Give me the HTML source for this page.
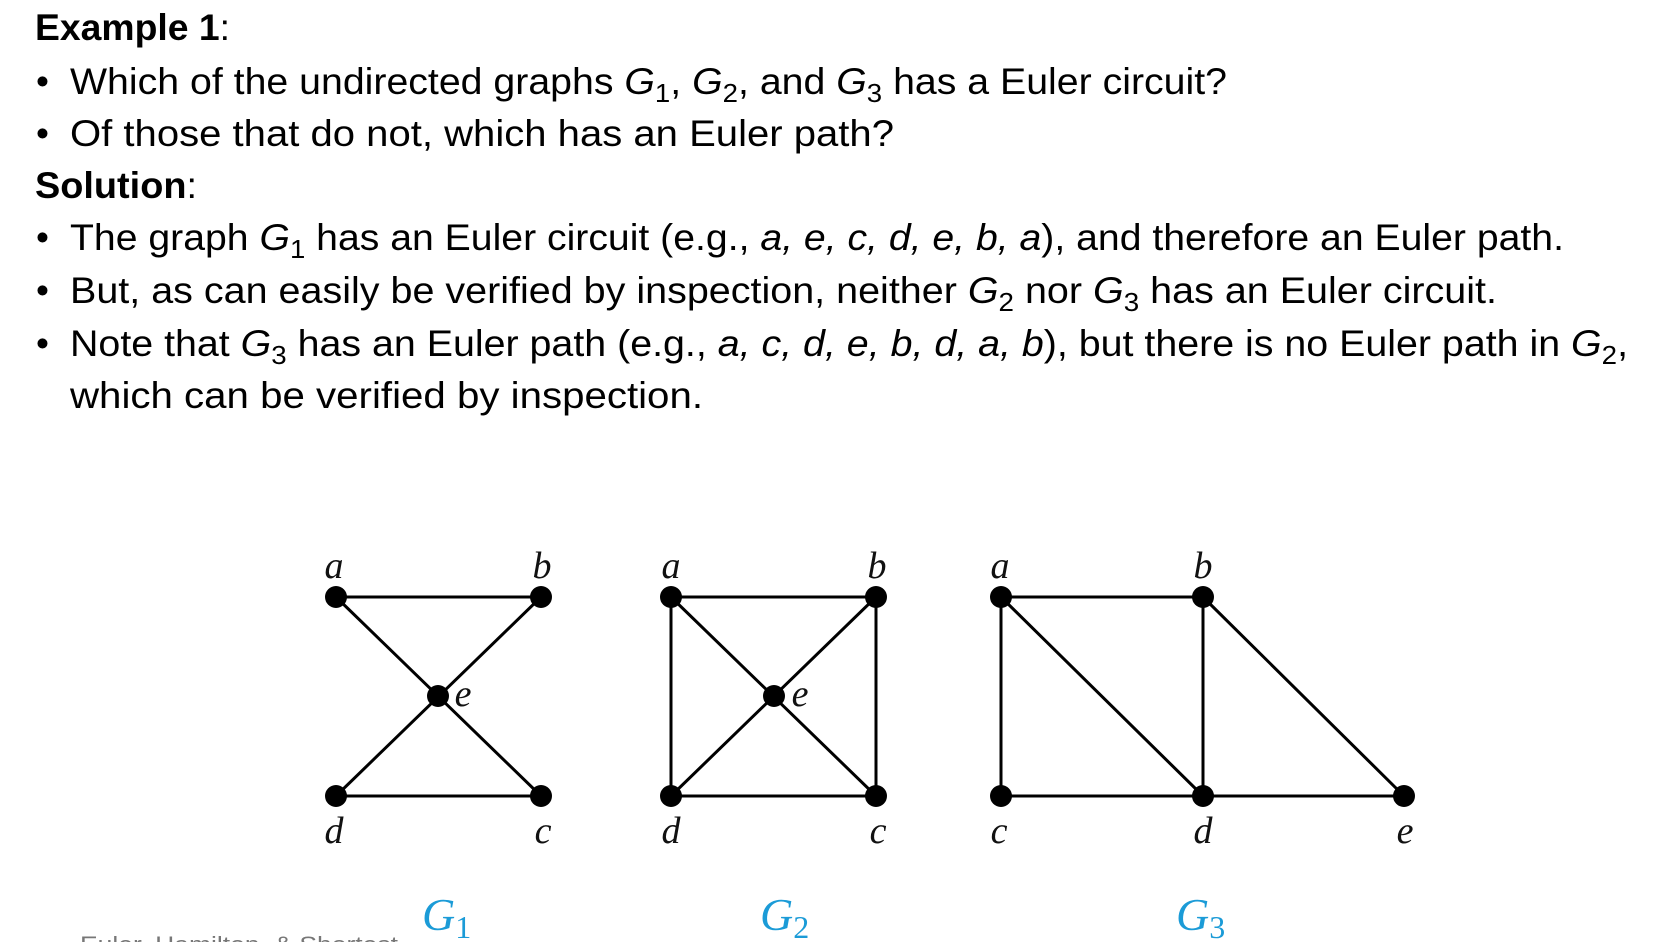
<!DOCTYPE html>
<html><head><meta charset="utf-8"><style>
html,body{margin:0;padding:0;background:#fff;width:1660px;height:942px;overflow:hidden}
svg{display:block}
.t{font-family:"Liberation Sans",sans-serif;font-size:37px;fill:#000}
.b{font-weight:bold}
.s{font-size:26px}
.lab{font-family:"Liberation Serif",serif;font-style:italic;font-size:38px;fill:#111}
.gl{font-family:"Liberation Serif",serif;font-style:italic;font-size:46px;fill:#1b9bd7}
</style></head><body>
<svg width="1660" height="942" viewBox="0 0 1660 942">
<text class="t b" x="35" y="40" textLength="195" lengthAdjust="spacingAndGlyphs">Example 1<tspan font-weight="normal">:</tspan></text>
<g class="t">
<text x="36" y="94">•</text><text x="36" y="146">•</text><text x="36" y="250">•</text><text x="36" y="303">•</text><text x="36" y="356">•</text>
</g>
<text class="t" x="70" y="94" textLength="1157" lengthAdjust="spacingAndGlyphs">Which of the undirected graphs <tspan font-style="italic">G</tspan><tspan class="s" dy="8">1</tspan><tspan dy="-8">, </tspan><tspan font-style="italic">G</tspan><tspan class="s" dy="8">2</tspan><tspan dy="-8">, and </tspan><tspan font-style="italic">G</tspan><tspan class="s" dy="8">3</tspan><tspan dy="-8"> has a Euler circuit?</tspan></text>
<text class="t" x="70" y="146" textLength="824" lengthAdjust="spacingAndGlyphs">Of those that do not, which has an Euler path?</text>
<text class="t b" x="35" y="198" textLength="162" lengthAdjust="spacingAndGlyphs">Solution<tspan font-weight="normal">:</tspan></text>
<text class="t" x="70" y="250" textLength="1494" lengthAdjust="spacingAndGlyphs">The graph <tspan font-style="italic">G</tspan><tspan class="s" dy="8">1</tspan><tspan dy="-8"> has an Euler circuit (e.g., </tspan><tspan font-style="italic">a, e, c, d, e, b, a</tspan>), and therefore an Euler path.</text>
<text class="t" x="70" y="303" textLength="1427" lengthAdjust="spacingAndGlyphs">But, as can easily be verified by inspection, neither <tspan font-style="italic">G</tspan><tspan class="s" dy="8">2</tspan><tspan dy="-8"> nor </tspan><tspan font-style="italic">G</tspan><tspan class="s" dy="8">3</tspan><tspan dy="-8"> has an Euler circuit.</tspan></text>
<text class="t" x="70" y="356" textLength="1558" lengthAdjust="spacingAndGlyphs">Note that <tspan font-style="italic">G</tspan><tspan class="s" dy="8">3</tspan><tspan dy="-8"> has an Euler path (e.g., </tspan><tspan font-style="italic">a, c, d, e, b, d, a, b</tspan>), but there is no Euler path in <tspan font-style="italic">G</tspan><tspan class="s" dy="8">2</tspan><tspan dy="-8">,</tspan></text>
<text class="t" x="70" y="408" textLength="633" lengthAdjust="spacingAndGlyphs">which can be verified by inspection.</text>

<g stroke="#000" stroke-width="3" fill="none">
<line x1="336" y1="597" x2="541" y2="597"/><line x1="336" y1="796" x2="541" y2="796"/>
<line x1="336" y1="597" x2="541" y2="796"/><line x1="541" y1="597" x2="336" y2="796"/>
<rect x="671" y="597" width="205" height="199"/>
<line x1="671" y1="597" x2="876" y2="796"/><line x1="876" y1="597" x2="671" y2="796"/>
<rect x="1001" y="597" width="202" height="199"/>
<line x1="1001" y1="597" x2="1203" y2="796"/><line x1="1203" y1="597" x2="1404" y2="796"/>
<line x1="1203" y1="796" x2="1404" y2="796"/>
</g>
<g fill="#000">
<circle cx="336" cy="597" r="11"/><circle cx="541" cy="597" r="11"/><circle cx="438" cy="696" r="11"/><circle cx="336" cy="796" r="11"/><circle cx="541" cy="796" r="11"/>
<circle cx="671" cy="597" r="11"/><circle cx="876" cy="597" r="11"/><circle cx="774" cy="696" r="11"/><circle cx="671" cy="796" r="11"/><circle cx="876" cy="796" r="11"/>
<circle cx="1001" cy="597" r="11"/><circle cx="1203" cy="597" r="11"/><circle cx="1001" cy="796" r="11"/><circle cx="1203" cy="796" r="11"/><circle cx="1404" cy="796" r="11"/>
</g>
<g class="lab" text-anchor="middle">
<text x="334" y="578">a</text><text x="542" y="578">b</text><text x="463" y="706">e</text><text x="334" y="843">d</text><text x="543" y="843">c</text>
<text x="671" y="578">a</text><text x="877" y="578">b</text><text x="800" y="706">e</text><text x="671" y="843">d</text><text x="878" y="843">c</text>
<text x="1000" y="578">a</text><text x="1203" y="578">b</text><text x="999" y="843">c</text><text x="1203" y="843">d</text><text x="1405" y="843">e</text>
</g>
<text class="gl" x="422" y="930">G<tspan font-size="32" font-style="normal" dy="8">1</tspan></text>
<text class="gl" x="760" y="930">G<tspan font-size="32" font-style="normal" dy="8">2</tspan></text>
<text class="gl" x="1176" y="930">G<tspan font-size="32" font-style="normal" dy="8">3</tspan></text>
<text x="80" y="952" font-family="Liberation Sans,sans-serif" font-size="22" fill="#777" textLength="318" lengthAdjust="spacingAndGlyphs">Euler, Hamilton, &amp; Shortest</text>
</svg>
</body></html>
